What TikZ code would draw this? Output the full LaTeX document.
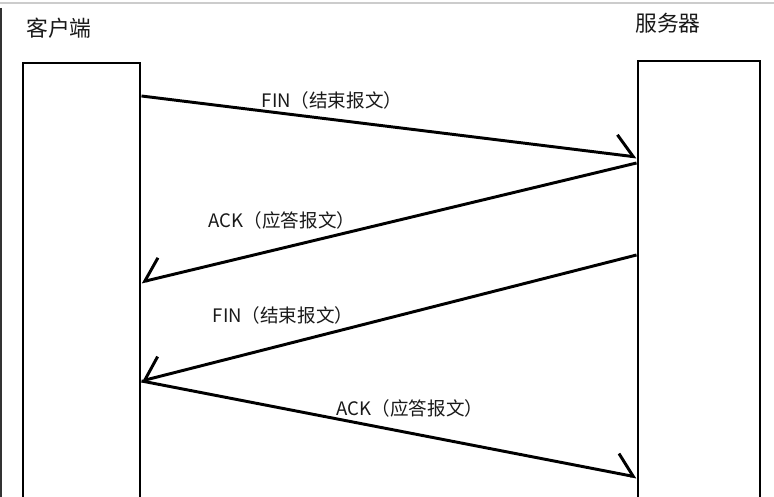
\documentclass[tikz,border=0pt]{standalone}
\usepackage{fontspec}
\setmainfont{Noto Sans CJK SC}
\usetikzlibrary{arrows.meta,fit}

\begin{document}
\begin{tikzpicture}[x=0.025cm, y=-0.025cm,
  host/.style={draw, line width=2.1pt, inner sep=0pt},
  msgup/.style={line width=2.1pt, -{Straight Barb[left, length=13pt, width=28pt]}},
  msgdown/.style={line width=2.1pt, -{Straight Barb[right, length=13pt, width=28pt]}},
  tag/.style={font=\fontsize{13.2}{15}\selectfont, text=black!90, inner sep=0pt},
  title/.style={font=\fontsize{15.5}{18}\selectfont, text=black!90, inner sep=0pt}]
  \useasboundingbox (0,0) rectangle (774,497);
  \clip (0,0) rectangle (774,497);
  \fill[white] (0,0) rectangle (774,497);
  % window edges
  \draw[gray!40, line width=0.8pt] (0,3) -- (774,3);
  \draw[black!80, line width=0.8pt] (1,8) -- (1,497);
  % hosts
  \node[host, fit={(23,63) (140,530)}] (client) {};
  \node[host, fit={(638,61) (760,530)}] (server) {};
  \node[title] (clientname) at (59,28) {客户端};
  \node[title] (servername) at (668,23) {服务器};
  % messages
  \draw[msgup] (client.east |- 0,96) -- (server.west |- 0,157);
  \node[tag] (fin1) at (332,100) {FIN（结束报文）};
  \draw[msgdown] (server.west |- 0,163) -- (client.east |- 0,282);
  \node[tag] (ack1) at (282,220) {ACK（应答报文）};
  \draw[msgdown] (server.west |- 0,255) -- (client.east |- 0,381);
  \node[tag] (fin2) at (283,315) {FIN（结束报文）};
  \draw[msgup] (client.east |- 0,381) -- (server.west |- 0,477);
  \node[tag] (ack2) at (410,408) {ACK（应答报文）};
\end{tikzpicture}
\end{document}
